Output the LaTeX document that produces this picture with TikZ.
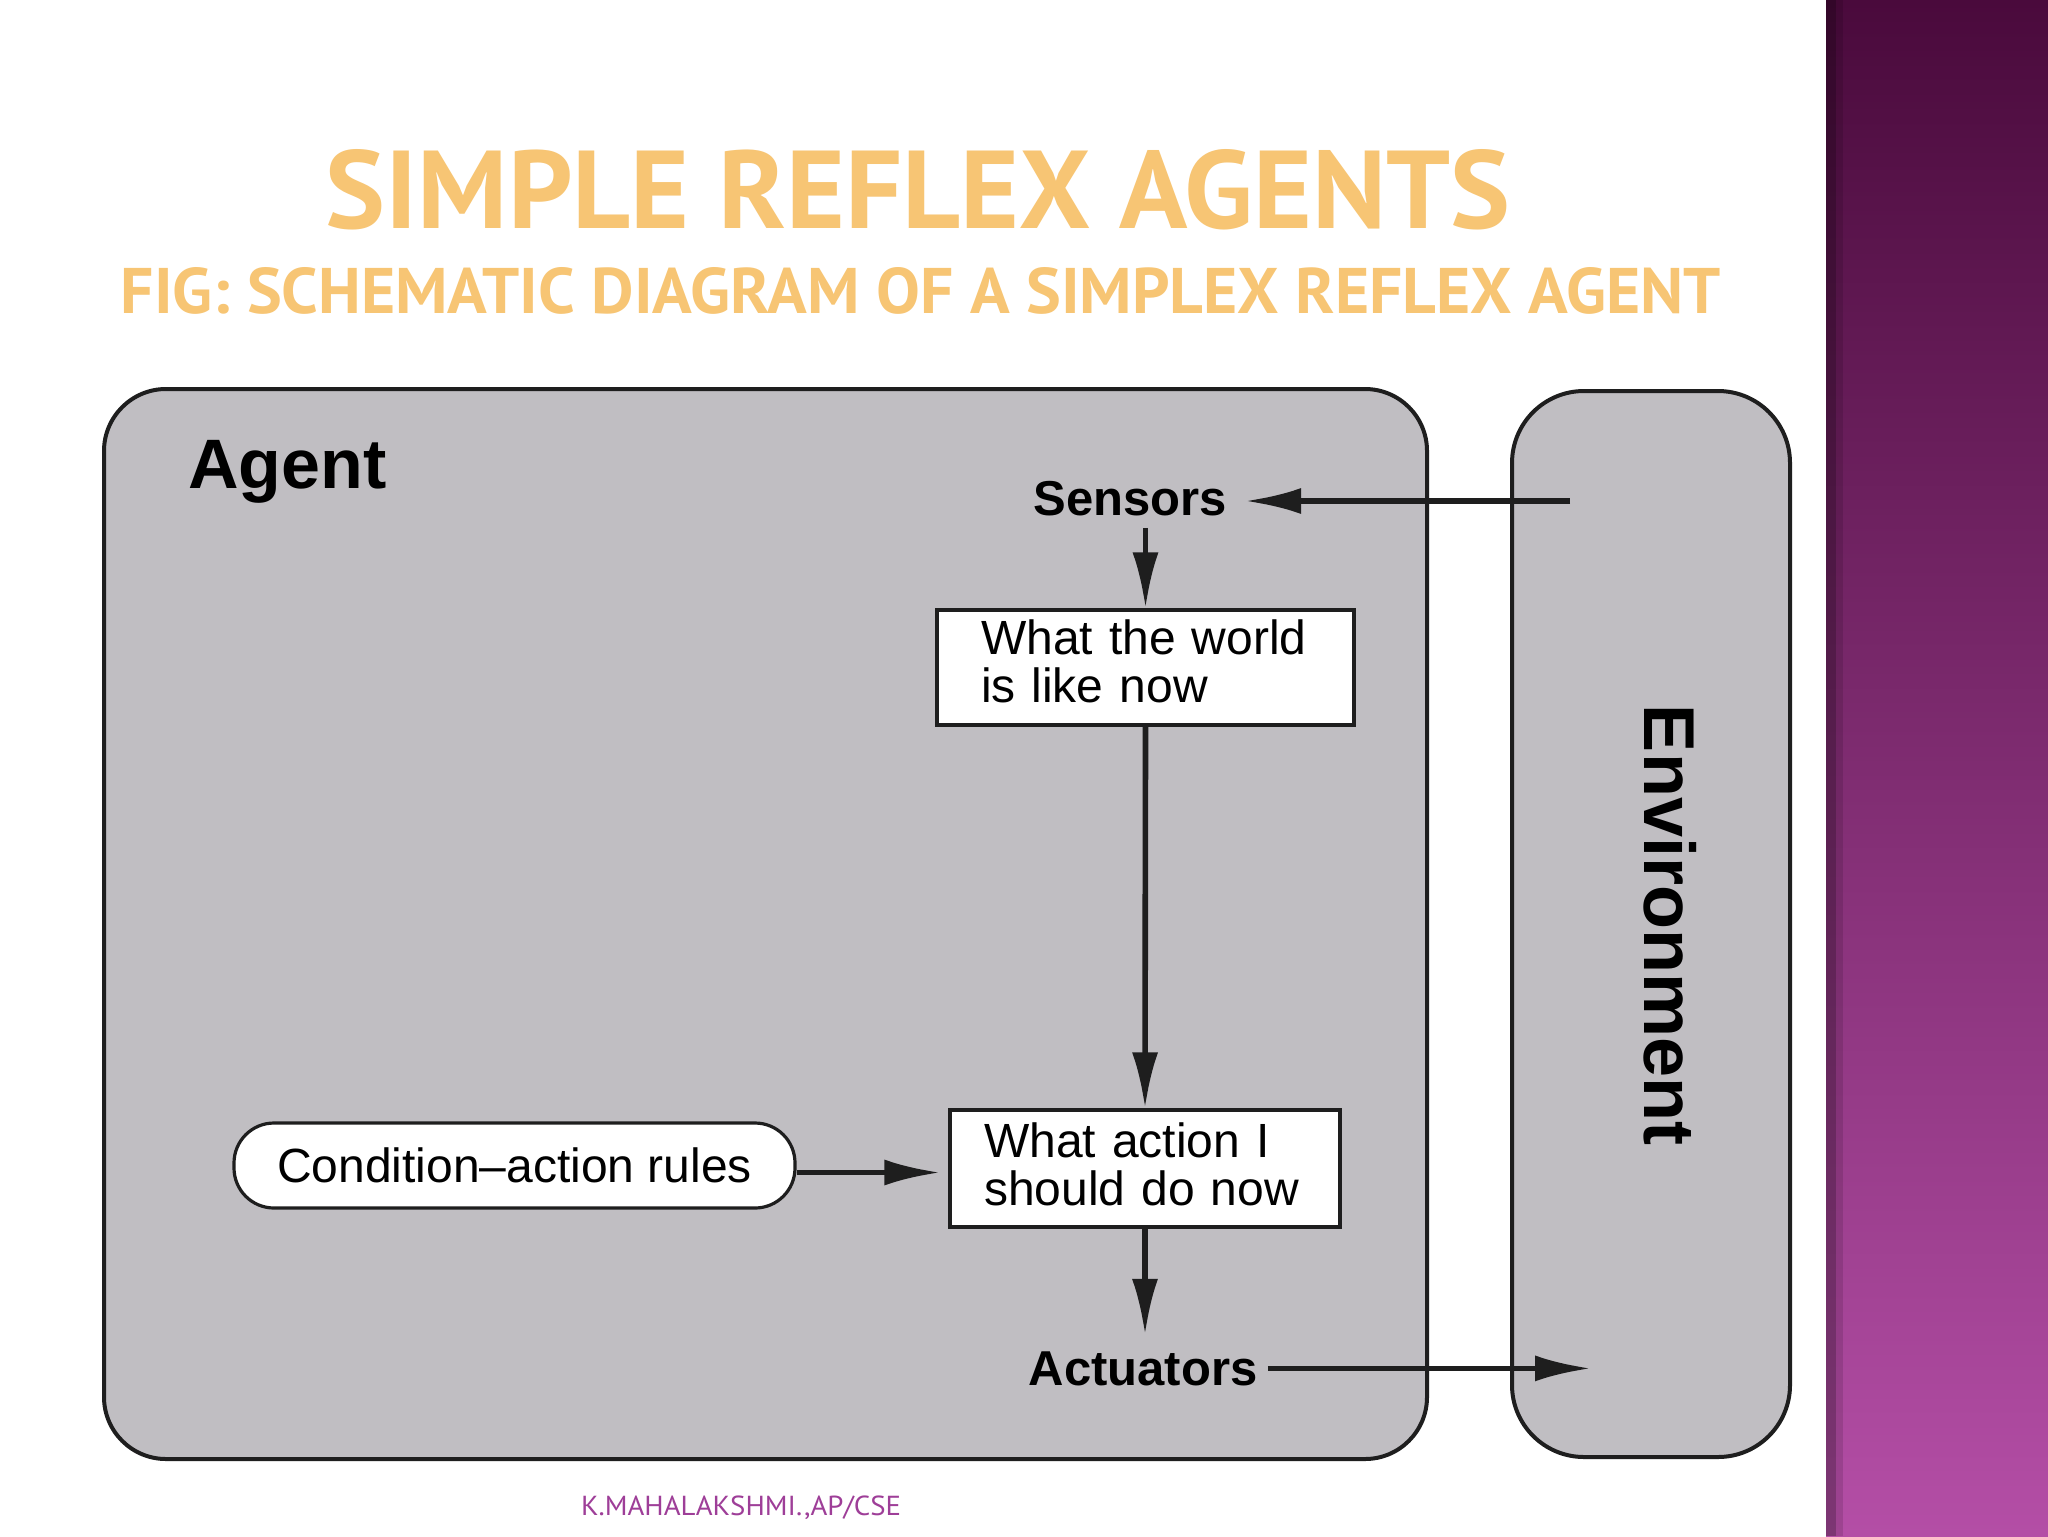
\documentclass[tikz,border=0pt]{standalone}
\usepackage{fontspec}
\usepackage{graphicx}
\usetikzlibrary{arrows.meta}
\newfontfamily\helv{Liberation Sans}
\newfontfamily\ptsans{PT Sans}
\definecolor{panelgray}{HTML}{C0BEC2}
\definecolor{edgec}{HTML}{1E1E1E}
\definecolor{titleor}{HTML}{F7C574}
\definecolor{footpurple}{HTML}{9E3E98}
\definecolor{bartop}{HTML}{4A0A3C}
\definecolor{barmid}{HTML}{86307C}
\definecolor{barbot}{HTML}{B44EA6}
\begin{document}
\begin{tikzpicture}[x=0.5pt,y=-0.5pt,
  panel/.style={draw=edgec, line width=2pt, fill=panelgray, inner sep=0pt},
  infobox/.style={draw=edgec, line width=1.6pt, fill=white, align=left, inner ysep=0pt, font=\helv\fontsize{24}{24}\selectfont},
  lbl/.style={inner sep=0pt, font=\helv\bfseries\fontsize{24.5}{24.5}\selectfont},
  arr/.style={draw=edgec, line width=2.8pt, -{Latex[length=28pt,width=13pt]}},
]
\useasboundingbox (0,0) rectangle (2048,1536);
\fill[white] (0,0) rectangle (2048,1536);
% purple side bar
\shade[top color=bartop, middle color=barmid, bottom color=barbot] (1826,0) rectangle (2048,1536);
\fill[black, opacity=0.3] (1826,0) rectangle (1836,1536);
\fill[black, opacity=0.12] (1836,0) rectangle (1843,1536);
% titles
\node[anchor=base, inner sep=0pt, text=titleor] (title) at (918,228)
  {\resizebox{592pt}{39.5pt}{\ptsans\bfseries SIMPLE REFLEX AGENTS}};
\node[anchor=base, inner sep=0pt, text=titleor] (subtitle) at (921,313)
  {\resizebox{800pt}{23pt}{\ptsans\bfseries FIG: SCHEMATIC DIAGRAM OF A SIMPLEX REFLEX AGENT}};
% footer
\node[anchor=base, inner sep=0pt, text=footpurple] (footer) at (741,1515)
  {\resizebox{160pt}{9.8pt}{\ptsans K.MAHALAKSHMI.,AP/CSE}};
% panels
\node[panel, rounded corners=31pt, minimum width=661.5pt, minimum height=535pt] (agentbox) at (765.5,924) {};
\node[panel, rounded corners=36pt, minimum width=139pt, minimum height=533pt] (envbox) at (1651,924) {};
\node[anchor=base west, inner sep=0pt, font=\helv\bfseries\fontsize{35}{35}\selectfont] (agentlbl) at (188,488) {Agent};
\node[rotate=-90, inner sep=0pt, font=\helv\bfseries\fontsize{36}{36}\selectfont] (envlbl) at (1670,925) {Environment};
% inner nodes
\node[lbl, anchor=base] (sens) at (1130,515) {Sensors};
\node[infobox, text width=164.5pt, inner xsep=22pt, minimum height=57.5pt] (world) at (1145.5,667.5) {What the world\\is like now\rule[-6pt]{0pt}{6pt}};
\node[infobox, text width=161pt, inner xsep=17pt, minimum height=58.5pt] (action) at (1145,1168.5) {What action I\\should do now\rule[-4pt]{0pt}{4pt}};
\node[draw=edgec, line width=1.6pt, fill=white, rounded corners=20pt, minimum width=280.5pt, minimum height=42.5pt, inner sep=0pt, font=\helv\fontsize{24}{24}\selectfont] (cond) at (514.5,1165.5) {Condition–action rules};
\node[lbl, anchor=base] (act) at (1143,1385) {Actuators};
\coordinate (envin) at (1570,501);
\coordinate (envout) at (1591,1370);
% connectors
\draw[arr, shorten >=9pt] (envin) -- (envin -| sens.east);
\draw[arr, shorten <=6pt] (world.north |- sens.south) -- (world.north);
\draw[arr] (world.south) -- (action.north);
\draw[arr, shorten >=8pt] (action.south) -- (action.south |- act.north);
\draw[arr, shorten >=4pt] ([yshift=-3.5pt]cond.east) -- ([yshift=-3.5pt]cond.east -| action.west);
\draw[arr, shorten <=5pt] (act.east) -- (act.east -| envout);
\end{tikzpicture}
\end{document}
